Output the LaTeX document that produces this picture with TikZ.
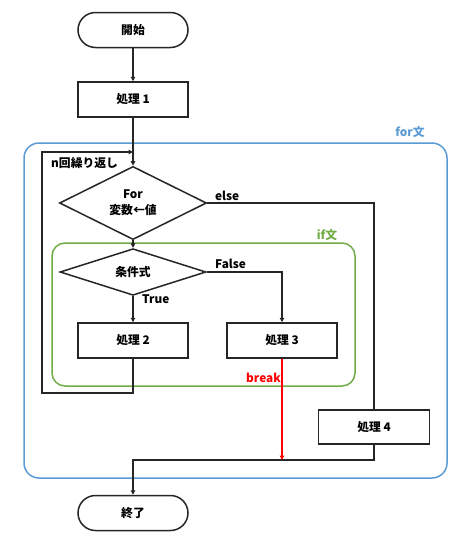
\documentclass[tikz,border=0pt]{standalone}
\usepackage{fontspec}
\setmainfont{Noto Sans CJK JP}
\usetikzlibrary{arrows.meta,shapes.geometric}
\definecolor{forblue}{HTML}{5B9BD5}
\definecolor{ifgreen}{HTML}{70AD47}
\begin{document}
\begin{tikzpicture}[x=1pt,y=-1pt,
  font=\bfseries\fontsize{11.8}{14}\selectfont,
  line/.style={line width=1.5pt, draw=black!85},
  arr/.style={line, -{Triangle[length=4.5pt,width=4.5pt]}},
  proc/.style={draw=black!85, line width=1.5pt, minimum width=110pt, minimum height=35pt, inner sep=0pt, fill=white},
  term/.style={proc, rounded corners=17.5pt},
  dec/.style={draw=black!85, line width=1.5pt, diamond, inner sep=0pt, fill=white},
  lbl/.style={inner sep=1pt}]
\useasboundingbox (0,0) rectangle (474,546);
% containers
\draw[forblue, line width=1.5pt, rounded corners=15pt] (24,143) rectangle (447,478);
\node[lbl, text=forblue] (forlbl) at (410,132) {for文};
\draw[ifgreen, line width=1.5pt, rounded corners=13pt] (52,243) rectangle (355,386);
\node[lbl, text=ifgreen] (iflbl) at (327,235) {if文};
% nodes
\node[term] (start) at (133,30) {開始};
\node[proc] (p1) at (133,99.5) {処理 1};
\node[dec, minimum width=147pt, minimum height=70pt, align=center] (d1) at (133,203) {For\\[2pt]変数←値};
\node[dec, minimum width=146pt, minimum height=34pt] (d2) at (133,272) {条件式};
\node[proc] (p2) at (133,340.5) {処理 2};
\node[proc] (p3) at (282,340.5) {処理 3};
\node[proc, minimum width=111pt, minimum height=34pt] (p4) at (374,427) {処理 4};
\node[term] (end) at (133,513) {終了};
% coordinates
\coordinate (join) at (133,152);
\coordinate (lt) at (42,152);
\coordinate (lb) at (42,393);
\coordinate (p2b) at (133,393);
\coordinate (elsec) at (374,203);
\coordinate (falsec) at (282,272);
\coordinate (brk) at (282,460);
\coordinate (p4b) at (374,460);
\coordinate (endc) at (133,460);
% connectors
\draw[arr] (start) -- (p1);
\draw[arr] (p1) -- (d1.north);
\draw[arr] (p2.south) -- (p2b) -- (lb) -- (lt) -- (join);
\draw[arr] (d1.south) -- (d2.north);
\draw[arr] (d2.south) -- (p2.north);
\draw[arr] (d2.east) -- (falsec) -- (p3.north);
\draw[line] (d1.east) -- (elsec) -- (p4.north);
\draw[arr] (p4.south) -- (p4b) -- (endc) -- (end.north);
\draw[line, draw=red, -{Triangle[length=4.5pt,width=4.5pt]}] (p3.south) -- (brk);
% labels
\node[lbl, anchor=west] (nrep) at (50,163) {n回繰り返し};
\node[lbl, anchor=west] (elsel) at (214,196) {else};
\node[lbl, anchor=west] (falsel) at (214,264) {False};
\node[lbl, anchor=west] (truel) at (141,299) {True};
\node[lbl, anchor=west, text=red] (brkl) at (245,378) {break};
\end{tikzpicture}
\end{document}
